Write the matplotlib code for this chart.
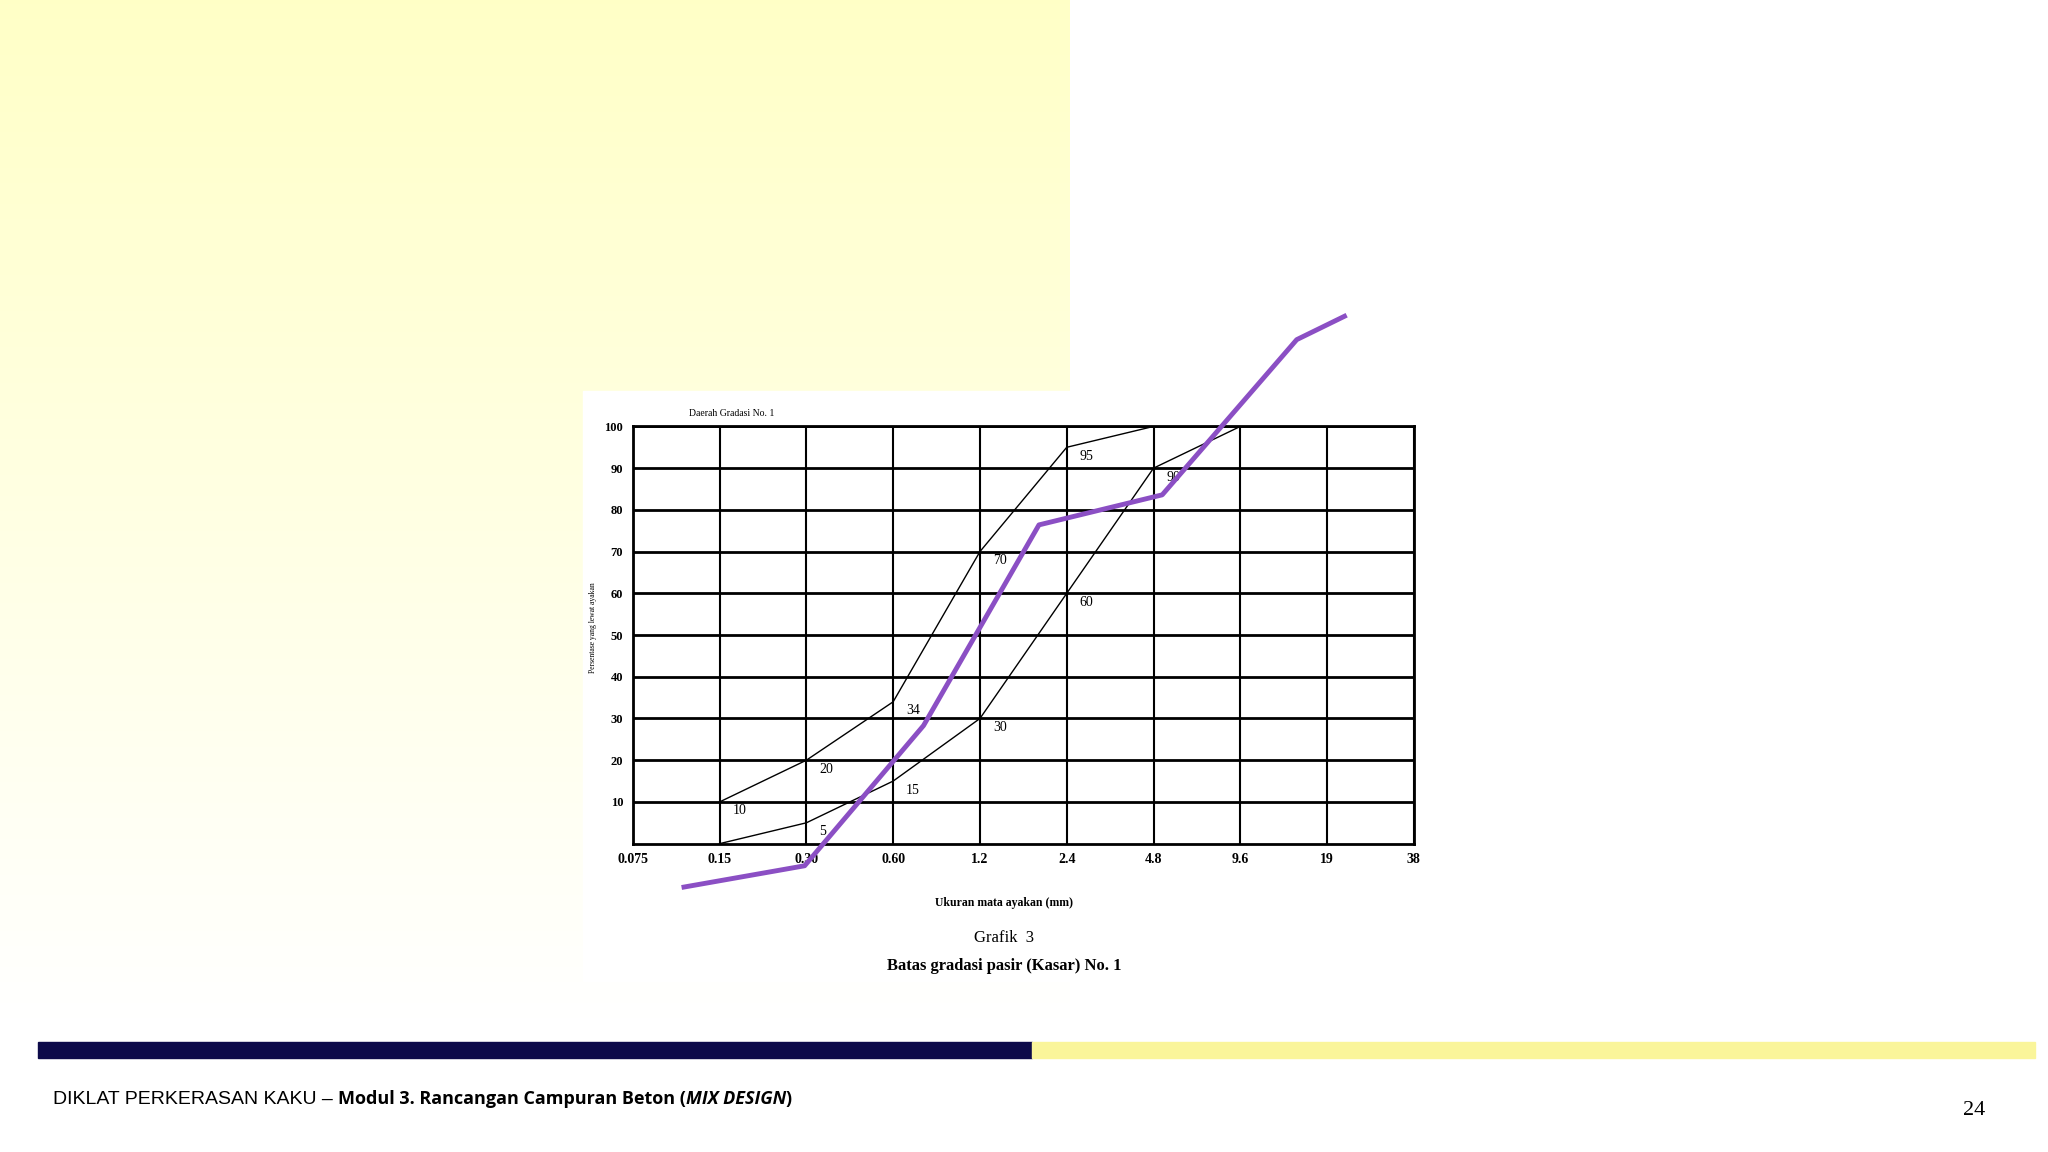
import numpy as np
import matplotlib.pyplot as plt

sieves = ['0.075', '0.15', '0.30', '0.60', '1.2', '2.4', '4.8', '9.6', '19', '38']
yticks = [10, 20, 30, 40, 50, 60, 70, 80, 90, 100]
# upper / lower limits (grid index, percent)
upper_x = [1, 2, 3, 4, 5, 6]
upper_y = [10, 20, 34, 70, 95, 100]
lower_x = [1, 2, 3, 4, 5, 6, 7]
lower_y = [0, 5, 15, 30, 60, 90, 100]
upper_lbl = [(1, 10, '10'), (2, 20, '20'), (3, 34, '34'), (4, 70, '70'), (5, 95, '95')]
lower_lbl = [(2, 5, '5'), (3, 15, '15'), (4, 30, '30'), (5, 60, '60'), (6, 90, '90')]
# purple overlay line
mix_x = [0.59, 1.98, 3.35, 4.68, 6.1, 7.65, 8.2]
mix_y = [-10.4, -5.3, 28.3, 76.4, 83.6, 120.8, 126.4]

W, H = 1560, 878
fig = plt.figure(figsize=(20.48, 11.52), dpi=100)

# background gradient on the left
bg = fig.add_axes([0, 0, 1, 1])
bg.set_xlim(0, W); bg.set_ylim(H, 0); bg.axis('off')
g = np.linspace(0, 1, 200)
col = np.ones((200, 1, 3))
col[:, 0, 2] = 0.78 + 0.22 * g
bg.imshow(col, extent=[0, 815, 780, 0], aspect='auto')
bg.add_patch(plt.Rectangle((444, 298), 641, 450, color='white', zorder=2))
bg.add_patch(plt.Rectangle((29, 794), 757, 12, color='#0d0a4a', zorder=2))
bg.add_patch(plt.Rectangle((786, 794), 764, 12, color='#faf59a', zorder=2))
t1 = bg.text(40, 838, 'DIKLAT PERKERASAN KAKU – ', fontsize=14, va='center', family='Liberation Sans')
t2 = bg.annotate('Modul 3. Rancangan Campuran Beton (', xy=(1, 0), xycoords=t1, va='bottom',
                 fontsize=13, weight='bold', family='Open Sans')
t3 = bg.annotate('MIX DESIGN', xy=(1, 0), xycoords=t2, va='bottom',
                 fontsize=13, weight='bold', style='italic', family='Open Sans')
bg.annotate(')', xy=(1, 0), xycoords=t3, va='bottom', fontsize=13, weight='bold', family='Open Sans')
bg.text(1504, 846, '24', fontsize=16, ha='center', va='center', family='Liberation Serif')
bg.text(525, 315, 'Daerah Gradasi No. 1', fontsize=7, family='Liberation Serif', va='center')
bg.text(765, 688, 'Ukuran mata ayakan (mm)', fontsize=8.5, weight='bold', family='Liberation Serif', ha='center', va='center')
bg.text(765, 715, 'Grafik  3', fontsize=12, family='Liberation Serif', ha='center', va='center')
bg.text(765, 736, 'Batas gradasi pasir (Kasar) No. 1', fontsize=12, weight='bold', family='Liberation Serif', ha='center', va='center')
bg.text(452, 478, 'Persentase yang lewat ayakan', fontsize=5.5, rotation=90, family='Liberation Serif', ha='center', va='center')

ax = fig.add_axes([482 / W, 1 - 643 / H, (1077 - 482) / W, (643 - 325) / H])
ax.set_xlim(0, 9); ax.set_ylim(0, 100)
for i in range(10):
    ax.axvline(i, color='black', lw=1.5)
for v in yticks:
    ax.axhline(v, color='black', lw=2)
for s in ax.spines.values():
    s.set_linewidth(2)
ax.set_xticks(range(10))
ax.set_xticklabels(sieves, family='Liberation Serif', fontsize=10, weight='bold')
ax.set_yticks(yticks)
ax.set_yticklabels([str(v) for v in yticks], family='Liberation Serif', fontsize=9, weight='bold')
ax.tick_params(length=0, pad=7)
ax.plot(upper_x, upper_y, color='black', lw=1)
ax.plot(lower_x, lower_y, color='black', lw=1)
for x, y, t in upper_lbl + lower_lbl:
    ax.text(x + 0.15, y - 3, t, fontsize=10, family='Liberation Serif')
ax.plot(mix_x, mix_y, color='#8b4fc4', lw=3.5, clip_on=False, zorder=5)

fig.savefig('out.png')
